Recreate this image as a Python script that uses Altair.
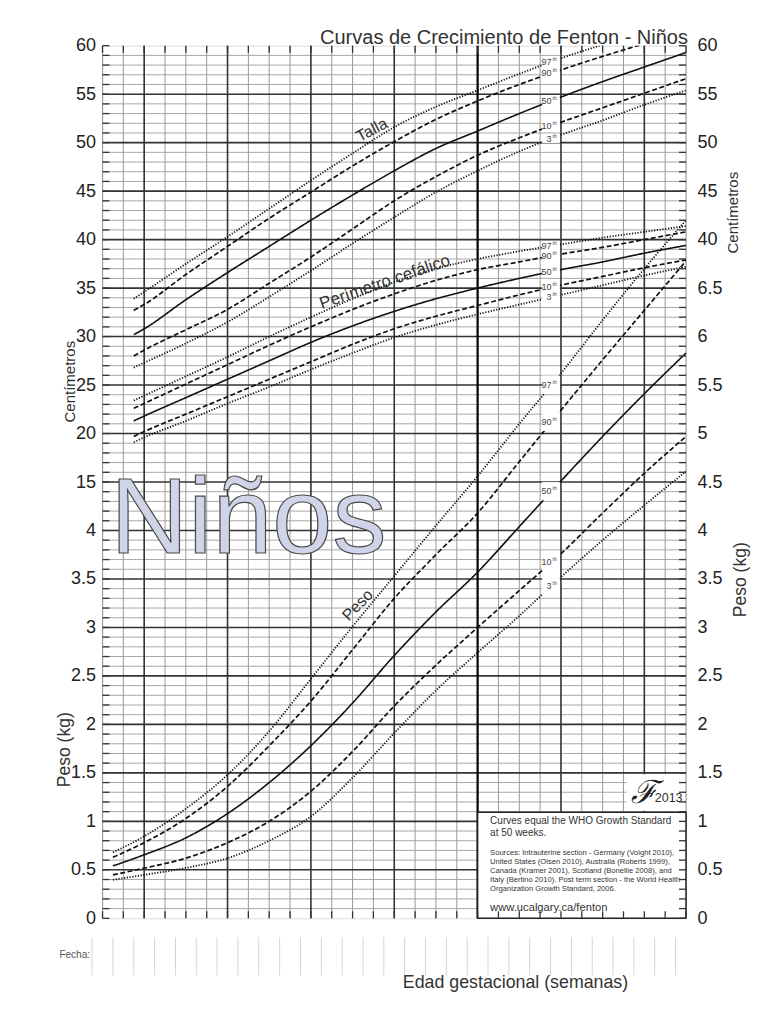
import altair as alt
import numpy as np
import pandas as pd

W, H = 583.5, 872.6

# ---------------- grid / axis data ----------------
grid_weeks = list(range(22, 51))
major_weeks = [24, 28, 32, 36, 44, 48]
term_week = [40]
x_tick_labels = list(range(22, 51, 2))
grid_units = list(range(0, 91))
y_tick_units = list(range(0, 91, 5))
fecha_weeks = [w + 0.5 for w in range(21, 50)]

pcts = ["97", "90", "50", "10", "3"]
styles = {"97": "dot", "90": "dash", "50": "solid", "10": "dash", "3": "dot"}

# ---------------- Talla (cm) ----------------
len_weeks = [23.5, 24, 26, 28, 30, 32, 34, 36, 38, 40, 42, 44, 46, 48, 50]
talla_97 = [33.9, 34.6, 37.5, 40.3, 43.2, 46.1, 48.9, 51.6, 53.7, 55.4, 57.1, 58.7, 60.1, 61.4, 62.6]
talla_90 = [32.7, 33.3, 36.4, 39.3, 42.2, 44.9, 47.6, 50.1, 52.4, 54.3, 56.0, 57.5, 58.9, 60.2, 61.4]
talla_50 = [30.2, 30.8, 33.8, 36.6, 39.3, 42.0, 44.6, 47.1, 49.4, 51.2, 53.0, 54.7, 56.3, 57.8, 59.3]
talla_10 = [28.0, 28.6, 30.7, 32.8, 35.5, 38.2, 41.1, 44.0, 46.5, 48.7, 50.5, 52.1, 53.6, 55.1, 56.6]
talla_3 = [26.8, 27.3, 29.3, 31.5, 34.1, 36.8, 39.6, 42.3, 44.9, 47.1, 49.1, 50.8, 52.3, 53.9, 55.4]

# ---------------- Perimetro cefalico (cm) ----------------
hc_97 = [23.4, 23.9, 25.9, 27.9, 30.0, 32.0, 33.9, 35.6, 37.0, 38.0, 38.8, 39.5, 40.2, 40.8, 41.4]
hc_90 = [22.6, 23.1, 25.1, 27.1, 29.1, 31.0, 32.8, 34.4, 35.8, 36.9, 37.7, 38.5, 39.2, 40.0, 40.8]
hc_50 = [21.3, 21.8, 23.7, 25.6, 27.5, 29.4, 31.1, 32.6, 33.9, 35.0, 36.0, 36.9, 37.7, 38.6, 39.4]
hc_10 = [19.7, 20.2, 22.0, 23.8, 25.6, 27.4, 29.2, 30.8, 32.1, 33.2, 34.3, 35.3, 36.2, 37.1, 37.9]
hc_3 = [19.1, 19.6, 21.3, 23.1, 24.8, 26.6, 28.3, 29.9, 31.2, 32.3, 33.3, 34.3, 35.3, 36.3, 37.2]

# ---------------- Peso (kg) ----------------
wt_weeks = [22.5, 24, 26, 28, 30, 32, 34, 36, 38, 40, 42, 44, 46, 48, 50]
peso_97 = [0.68, 0.845, 1.13, 1.48, 1.93, 2.47, 3.01, 3.53, 4.05, 4.56, 5.10, 5.62, 6.17, 6.70, 7.20]
peso_90 = [0.63, 0.78, 1.03, 1.36, 1.78, 2.24, 2.77, 3.30, 3.75, 4.18, 4.71, 5.24, 5.76, 6.27, 6.78]
peso_50 = [0.54, 0.655, 0.83, 1.08, 1.40, 1.78, 2.22, 2.71, 3.16, 3.57, 4.04, 4.51, 4.97, 5.41, 5.83]
peso_10 = [0.448, 0.517, 0.62, 0.78, 1.00, 1.31, 1.72, 2.19, 2.61, 3.00, 3.38, 3.76, 4.18, 4.59, 4.97]
peso_3 = [0.397, 0.448, 0.52, 0.62, 0.80, 1.05, 1.45, 1.91, 2.35, 2.74, 3.12, 3.52, 3.90, 4.26, 4.61]

info_head = ["Curves equal the WHO Growth Standard", "at 50 weeks."]
info_src = [
    "Sources: Intrauterine section - Germany (Voight 2010),",
    "United States (Olsen 2010), Australia (Roberts 1999),",
    "Canada (Kramer 2001), Scotland (Bonellie 2008), and",
    "Italy (Bertino 2010). Post term section - the World Health",
    "Organization Growth Standard, 2006.",
]
info_url = "www.ucalgary.ca/fenton"

# ---------------- build tables ----------------
def cm_to_u(v):
    return v + 30.0

def kg_to_u(v):
    return v * 10.0

groups = [
    ("talla", len_weeks, [talla_97, talla_90, talla_50, talla_10, talla_3], cm_to_u),
    ("hc", len_weeks, [hc_97, hc_90, hc_50, hc_10, hc_3], cm_to_u),
    ("peso", wt_weeks, [peso_97, peso_90, peso_50, peso_10, peso_3], kg_to_u),
]
LABEL_WK = 43.55
rows, lab = [], []
for g, wks, series, conv in groups:
    for p, vals in zip(pcts, series):
        us = [conv(v) for v in vals]
        for w, u in zip(wks, us):
            rows.append(dict(key=g + p, wk=w, u=u, style=styles[p]))
        lu = float(np.interp(LABEL_WK, wks, us))
        half = 0.95 if g == "peso" else 0.45
        lab.append(dict(num=p, sup="th", wk=LABEL_WK, u=lu, lo=lu - half, hi=lu + half))
curves = pd.DataFrame(rows)
labels = pd.DataFrame(lab)

xs = alt.Scale(domain=[22, 50], nice=False, zero=False)
ys = alt.Scale(domain=[0, 90], nice=False, zero=False)
FONT = "Liberation Sans"
one = pd.DataFrame({"k": [0]})


def XD(v):
    return alt.XDatum(v, axis=None)


def YD(v):
    return alt.YDatum(v, axis=None)


minor_w = pd.DataFrame({"wk": [w for w in grid_weeks if w not in major_weeks + term_week]})
major_w = pd.DataFrame({"wk": major_weeks})
term_w = pd.DataFrame({"wk": term_week})
minor_u = pd.DataFrame({"u": [u for u in grid_units if u % 5 != 0]})
major_u = pd.DataFrame({"u": [u for u in grid_units if u % 5 == 0 and 0 < u < 90]})
all_w = pd.DataFrame({"wk": grid_weeks})
all_u = pd.DataFrame({"u": grid_units})
fecha = pd.DataFrame({"wk": fecha_weeks})

left_axis = alt.Axis(orient="left", values=y_tick_units, ticks=False, domain=False, grid=False,
                     labelExpr="datum.value >= 45 ? '' + (datum.value - 30) : '' + (datum.value / 10)",
                     labelFontSize=18, labelPadding=7, labelColor="#222", title=None, labelFont=FONT)
right_axis = alt.Axis(orient="right", values=y_tick_units, ticks=False, domain=False, grid=False,
                      labelExpr="datum.value >= 70 ? '' + (datum.value - 30) : '' + (datum.value / 10)",
                      labelFontSize=18, labelPadding=11, labelColor="#222", title=None, labelFont=FONT)
x_axis = alt.Axis(values=x_tick_labels, ticks=False, domain=False, grid=False, labelFontSize=17,
                  labelPadding=6, labelColor="#222", title=None, labelFont=FONT)

l_minor_h = alt.Chart(minor_u).mark_rule(color="#a8a8a8", strokeWidth=1).encode(
    y=alt.Y("u:Q", scale=ys, axis=left_axis))
l_minor_v = alt.Chart(minor_w).mark_rule(color="#9a9a9a", strokeWidth=1).encode(
    x=alt.X("wk:Q", scale=xs, axis=x_axis))
l_major_h = alt.Chart(major_u).mark_rule(color="#333", strokeWidth=1.6).encode(
    y=alt.Y("u:Q", scale=ys, axis=right_axis))
l_major_v = alt.Chart(major_w).mark_rule(color="#333", strokeWidth=1.6).encode(
    x=alt.X("wk:Q", scale=xs, axis=None))
l_term = alt.Chart(term_w).mark_rule(color="#000", strokeWidth=2.2).encode(
    x=alt.X("wk:Q", scale=xs, axis=None))
l_fecha = alt.Chart(fecha).mark_rule(color="#d4d4d4", strokeWidth=1).encode(
    x=alt.X("wk:Q", scale=xs, axis=None), y=alt.value(H + 19), y2=alt.value(H + 57))

# white boxes (info box and logo area)
l_infobox = alt.Chart(one).mark_rect(fill="white", stroke="#222", strokeWidth=1.5).encode(
    x=XD(40), x2=alt.datum(50), y=YD(0), y2=alt.datum(10.95))
l_logobox = alt.Chart(one).mark_rect(fill="white").encode(
    x=XD(47.15), x2=alt.datum(49.9), y=YD(11.1), y2=alt.datum(14.85))

l_ninos = alt.Chart(one).mark_text(text="Niños", font=FONT, fontSize=108, fill="#cfd4e8",
                                   stroke="#4a4a4a", strokeWidth=1.2, align="center",
                                   baseline="alphabetic").encode(x=XD(29.0), y=YD(37.7))

l_curves = alt.Chart(curves).mark_line(color="#111", clip=True, interpolate="monotone").encode(
    x=alt.X("wk:Q", scale=xs, axis=None),
    y=alt.Y("u:Q", scale=ys, axis=None),
    detail="key:N",
    order="wk:Q",
    strokeDash=alt.StrokeDash("style:N", legend=None,
                              scale=alt.Scale(domain=["solid", "dash", "dot"],
                                              range=[[1, 0], [5, 2.5], [1.2, 1.6]])),
    strokeWidth=alt.StrokeWidth("style:N", legend=None,
                                scale=alt.Scale(domain=["solid", "dash", "dot"], range=[1.6, 1.8, 1.1])),
)

l_labbg = alt.Chart(labels).mark_rect(fill="white").encode(
    x=XD(43.1), x2=alt.datum(43.95), y=alt.Y("lo:Q", scale=ys, axis=None), y2="hi:Q")
l_labnum = alt.Chart(labels).mark_text(font=FONT, fontSize=9, color="#444", align="right",
                                       baseline="middle").encode(
    x=alt.X("wk:Q", scale=xs, axis=None), y=alt.Y("u:Q", scale=ys, axis=None), text="num:N")
l_labsup = alt.Chart(labels).mark_text(font=FONT, fontSize=5, color="#444", align="left",
                                       baseline="middle", dx=1, dy=-3).encode(
    x=alt.X("wk:Q", scale=xs, axis=None), y=alt.Y("u:Q", scale=ys, axis=None), text="sup:N")


def note(text, wk, u, size, angle=0, **kw):
    return alt.Chart(one).mark_text(text=text, font=FONT, fontSize=size, angle=angle, color="#333",
                                    align="center", baseline="middle", **kw).encode(
        x=XD(wk), y=YD(u))


l_talla = note("Talla", 34.93, 81.3, 16, 332)
l_hc = note("Perímetro cefálico", 35.55, 65.6, 17, 341)
l_peso = note("Peso", 34.25, 32.3, 16, 314)

# inward edge ticks
tk = dict(color="#333", strokeWidth=1.3)
l_tick_top = alt.Chart(all_w).mark_rule(**tk).encode(x=alt.X("wk:Q", scale=xs, axis=None), y=alt.value(0), y2=alt.value(7))
l_tick_bot = alt.Chart(all_w).mark_rule(**tk).encode(x=alt.X("wk:Q", scale=xs, axis=None), y=alt.value(H - 7), y2=alt.value(H))
l_tick_left = alt.Chart(all_u).mark_rule(**tk).encode(y=alt.Y("u:Q", scale=ys, axis=None), x=alt.value(0), x2=alt.value(7))
l_tick_right = alt.Chart(all_u).mark_rule(**tk).encode(y=alt.Y("u:Q", scale=ys, axis=None), x=alt.value(W - 7), x2=alt.value(W))

# info box text
info_rows = []
for i, t in enumerate(info_head):
    info_rows.append(dict(t=t, u=10.03 - 1.22 * i, s=10.0))
for i, t in enumerate(info_src):
    info_rows.append(dict(t=t, u=6.70 - 0.92 * i, s=7.6))
info_rows.append(dict(t=info_url, u=1.05, s=11.2))
info_layers = [
    alt.Chart(one).mark_text(text=r["t"], font=FONT, fontSize=r["s"], color="#333", align="left",
                             baseline="middle").encode(x=XD(40.6), y=YD(r["u"]))
    for r in info_rows
]
l_F = alt.Chart(one).mark_text(text="ℱ", font="DejaVu Serif", fontSize=32, fontStyle="italic", color="#222",
                               align="center", baseline="middle").encode(x=XD(48.0), y=YD(12.9))
l_2013 = alt.Chart(one).mark_text(text="2013", font=FONT, fontSize=12.5, color="#333", align="left",
                                  baseline="middle").encode(x=XD(48.5), y=YD(12.4))


def ptext(text, x, y, size, angle=0, align="center", baseline="middle", color="#333"):
    return alt.Chart(one).mark_text(text=text, font=FONT, fontSize=size, angle=angle, color=color,
                                    align=align, baseline=baseline).encode(x=alt.value(x), y=alt.value(y))


l_title = ptext("Curvas de Crecimiento de Fenton - Niños", W + 2, -2, 20, align="right", baseline="alphabetic")
l_xtitle = ptext("Edad gestacional (semanas)", 413, 937.5, 17.8)
l_fecha_t = ptext("Fecha:", -12.5, H + 37, 10, align="right", color="#555")
l_yl1 = ptext("Centímetros", -32.5, 336, 15, angle=270)
l_yl2 = ptext("Peso (kg)", -38, 704, 17.5, angle=270)
l_yr1 = ptext("Centímetros", W + 47, 167, 15, angle=270)
l_yr2 = ptext("Peso (kg)", W + 55, 534, 17.5, angle=270)

chart = alt.layer(
    l_minor_h, l_minor_v, l_major_h, l_major_v, l_term, l_fecha,
    l_infobox, l_logobox, l_ninos, l_curves, l_labbg, l_labnum, l_labsup,
    l_talla, l_hc, l_peso,
    l_tick_top, l_tick_bot, l_tick_left, l_tick_right,
    *info_layers, l_F, l_2013,
    l_title, l_xtitle, l_fecha_t, l_yl1, l_yl2, l_yr1, l_yr2,
).resolve_axis(y="independent").properties(
    width=W, height=H,
    autosize=alt.AutoSizeParams(type="none"),
    padding={"left": 94.5, "top": 37.7, "right": 74, "bottom": 97.7},
).configure_view(stroke="#111", strokeWidth=2).configure(font=FONT, background="white")

chart.save("out.html", embed_options={"renderer": "svg", "actions": False})
